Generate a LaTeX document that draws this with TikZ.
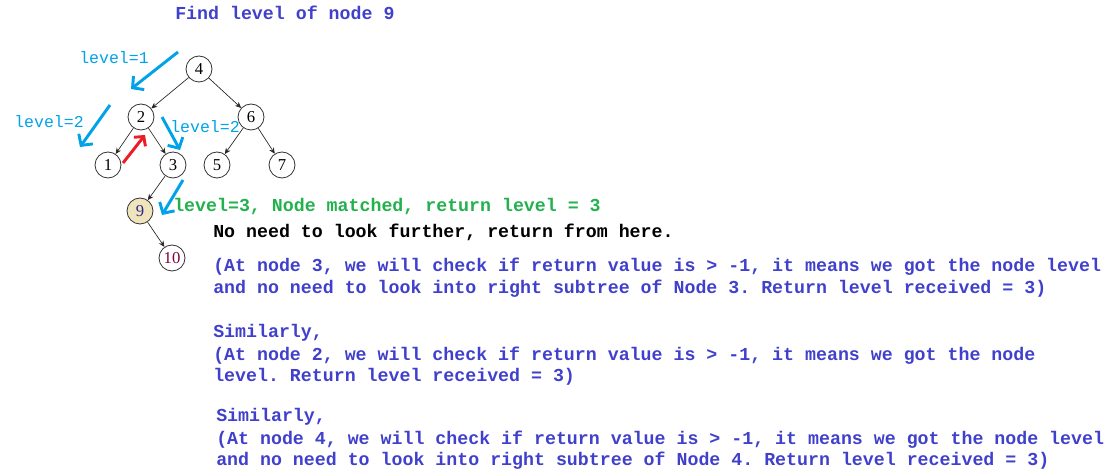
\documentclass[tikz,border=0pt]{standalone}
\usepackage{fontspec}
\setmainfont{Liberation Serif}
\setmonofont{Liberation Mono}
\usetikzlibrary{arrows.meta}
\definecolor{txtblue}{RGB}{64,64,204}
\definecolor{lblue}{RGB}{0,162,232}
\definecolor{lgreen}{RGB}{34,177,76}
\definecolor{pred}{RGB}{237,28,36}
\definecolor{beige}{RGB}{240,228,188}
\definecolor{ninecol}{RGB}{40,40,140}
\definecolor{tencol}{RGB}{128,0,64}
\begin{document}
\begin{tikzpicture}[x=0.75pt,y=-0.75pt,
 tnode/.style={circle,draw=black!80,line width=0.6pt,minimum size=19.5pt,inner sep=0pt,fill=white,font=\fontsize{12.5}{14}\selectfont},
 tedge/.style={-{Stealth[length=4.5pt,width=4pt]},line width=0.5pt,black!85},
 barrow/.style={lblue,line width=2.2pt,-{Straight Barb[length=6pt,width=13pt]}},
 rarrow/.style={pred,line width=2.2pt,-{Straight Barb[length=5pt,width=11pt]}},
 mono/.style={anchor=base west,inner sep=0pt,font=\fontsize{13.7}{16}\selectfont\ttfamily\bfseries},
 lbl/.style={anchor=base west,inner sep=0pt,font=\fontsize{12.4}{14}\selectfont\ttfamily,text=lblue}]
\useasboundingbox (0,0) rectangle (1115,474);

% tree
\node[tnode] (n4) at (199,69) {4};
\node[tnode] (n2) at (141,117) {2};
\node[tnode] (n6) at (251,117) {6};
\node[tnode] (n1) at (108,165) {1};
\node[tnode] (n3) at (173,165) {3};
\node[tnode] (n5) at (217,165) {5};
\node[tnode] (n7) at (282,165) {7};
\node[tnode,fill=beige,text=ninecol] (n9) at (140,211) {9};
\node[tnode,text=tencol] (n10) at (172,258) {10};

\draw[tedge] (n4) -- (n2);
\draw[tedge] (n4) -- (n6);
\draw[tedge] (n2) -- (n1);
\draw[tedge] (n2) -- (n3);
\draw[tedge] (n6) -- (n5);
\draw[tedge] (n6) -- (n7);
\draw[tedge] (n3) -- (n9);
\draw[tedge] (n9) -- (n10);

% blue traversal arrows
\coordinate (a1s) at (178,52); \coordinate (a1e) at (131,89);
\coordinate (a2s) at (110,105); \coordinate (a2e) at (80,147);
\coordinate (a3s) at (162,117); \coordinate (a3e) at (180,150);
\coordinate (a4s) at (183,180); \coordinate (a4e) at (162,215);
\coordinate (rs) at (123,163); \coordinate (re) at (145,135);
\draw[barrow] (a1s) -- (a1e);
\draw[barrow] (a2s) -- (a2e);
\draw[barrow] (a3s) -- (a3e);
\draw[barrow] (a4s) -- (a4e);
\draw[rarrow] (rs) -- (re);

% labels
\node[lbl] (l1) at (79,64) {level=1};
\node[lbl] (l2) at (14,128) {level=2};
\node[lbl] (l3) at (170,133) {level=2};

% texts
\node[mono,text=txtblue] (title) at (175,20) {Find level of node 9};
\node[mono,text=lgreen] (t1) at (173,212) {level=3, Node matched, return level = 3};
\node[mono,text=black] (t2) at (213,238) {No need to look further, return from here.};
\node[mono,text=txtblue] (t3) at (213,272) {(At node 3, we will check if return value is > -1, it means we got the node level};
\node[mono,text=txtblue] (t4) at (213,294) {and no need to look into right subtree of Node 3. Return level received = 3)};
\node[mono,text=txtblue] (t5) at (213,338) {Similarly,};
\node[mono,text=txtblue] (t6) at (213,360) {(At node 2, we will check if return value is > -1, it means we got the node};
\node[mono,text=txtblue] (t7) at (213,382) {level. Return level received = 3)};
\node[mono,text=txtblue] (t8) at (216,421) {Similarly,};
\node[mono,text=txtblue] (t9) at (216,444) {(At node 4, we will check if return value is > -1, it means we got the node level};
\node[mono,text=txtblue] (t10) at (216,465) {and no need to look into right subtree of Node 4. Return level received = 3)};
\end{tikzpicture}
\end{document}
